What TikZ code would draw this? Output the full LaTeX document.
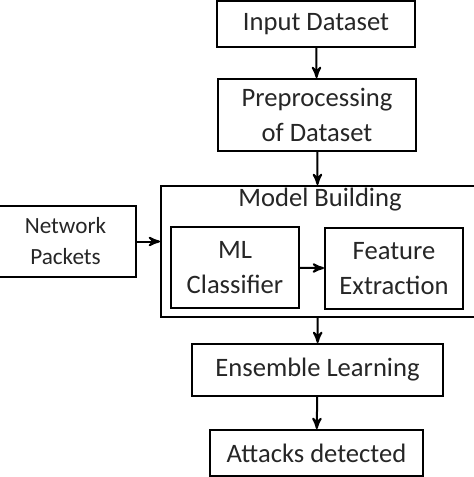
\documentclass[tikz,border=0pt]{standalone}
\usepackage{fontspec}
\setmainfont{Carlito}
\usepackage{tikz}
\usetikzlibrary{arrows, positioning}

\begin{document}
\begin{tikzpicture}
  [x=0.5pt, y=-0.5pt,
   font=\fontsize{13.3}{17.5}\selectfont,
   stepbox/.style={rectangle, draw=black, line width=1pt, inner sep=0pt,
                   align=center, text=black!85},
   pre/.style={<-,>=stealth',line width=1pt},
   post/.style={->,>=stealth',line width=1pt}]

  \useasboundingbox (0,0) rectangle (474,477);

  % Hauptkette
  \node (input) at (316, 24) [stepbox, minimum width=99pt, minimum height=23pt]
    {Input Dataset};
  \node (prep) at (317, 115) [stepbox, minimum width=99pt, minimum height=36pt]
    {Preprocessing\\ of Dataset}
    edge [pre] (input);

  % Modellbildung
  \node (model) at (318, 251.5) [stepbox, minimum width=157pt, minimum height=65.5pt] {}
    edge [pre] (prep);
  \node (modeltitle) at (320, 200) [text=black!85] {Model Building};
  \node (classifier) at (235, 267.5) [stepbox, minimum width=64pt, minimum height=40.5pt]
    {ML\\ Classifier};
  \node (features) at (394, 268.5) [stepbox, minimum width=69pt, minimum height=40.5pt]
    {Feature\\ Extraction}
    edge [pre] (classifier);

  % Eingang von links
  \node (packets) at (65.5, 241.5)
    [stepbox, minimum width=70pt, minimum height=35.5pt,
     font=\fontsize{11.6}{15.5}\selectfont]
    {Network\\ Packets};
  \draw [post] (packets.east) -- (packets.east -| model.west);

  % Ausgabe
  \node (ensemble) at (317.5, 370) [stepbox, minimum width=125.5pt, minimum height=26pt]
    {Ensemble Learning}
    edge [pre] (model);
  \node (attacks) at (316.5, 453) [stepbox, minimum width=106.5pt, minimum height=23pt]
    {Attacks detected}
    edge [pre] (ensemble);

\end{tikzpicture}
\end{document}
